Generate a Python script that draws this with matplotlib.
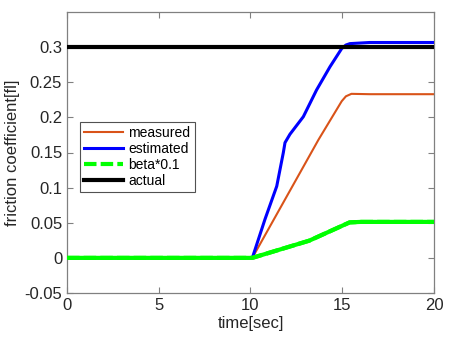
import matplotlib
matplotlib.use("Agg")
import matplotlib.pyplot as plt

plt.rcParams['font.family'] = ['Liberation Sans', 'DejaVu Sans']

# measured (orange)
t_meas = [0, 10.1, 13.7, 14.97, 15.2, 15.5, 16.5, 20]
v_meas = [0, 0, 0.168, 0.223, 0.230, 0.2335, 0.233, 0.233]

# estimated (blue)
t_est = [0, 10.1, 10.79, 11.43, 11.79, 11.88, 12.15, 12.88, 13.6, 14.33, 14.97, 15.2, 15.42, 16.5, 20]
v_est = [0, 0, 0.055, 0.102, 0.150, 0.164, 0.176, 0.201, 0.239, 0.272, 0.298, 0.303, 0.305, 0.3066, 0.3066]

# beta*0.1 (green)
t_beta = [0, 10.1, 13.2, 15.4, 16.0, 20]
v_beta = [0, 0, 0.0245, 0.0505, 0.0512, 0.0512]

# actual (black)
t_act = [0, 20]
v_act = [0.3, 0.3]

xticks = [0, 5, 10, 15, 20]
yticks = [-0.05, 0, 0.05, 0.1, 0.15, 0.2, 0.25, 0.3]
ytick_labels = ['-0.05', '0', '0.05', '0.1', '0.15', '0.2', '0.25', '0.3']

fig = plt.figure(figsize=(4.74, 3.47), dpi=100)
ax = fig.add_axes([67/474, 1 - 293/347, 367/474, 281/347])

ax.plot(t_meas, v_meas, color='#D95319', lw=1.5, label='measured', zorder=2)
ax.plot(t_est, v_est, color='#0000FF', lw=2.2, label='estimated', zorder=3)
ax.plot(t_beta, v_beta, color='#00FF00', lw=3.0, ls='--', dashes=(3, 1), label='beta*0.1', zorder=4)
ax.plot(t_beta, v_beta, color='#00FF00', lw=3.0, zorder=4)
ax.plot(t_act, v_act, color='black', lw=3.0, label='actual', zorder=5)

ax.set_xlim(0, 20)
ax.set_ylim(-0.05, 0.35)
ax.set_xticks(xticks)
ax.set_yticks(yticks)
ax.set_yticklabels(ytick_labels)
ax.tick_params(direction='in', top=True, right=True, labelsize=12, colors='#808080',
               labelcolor='#262626', length=4)
for s in ax.spines.values():
    s.set_color('#808080')
    s.set_linewidth(0.9)

ax.set_xlabel('time[sec]', fontsize=12, color='#262626', labelpad=2)
ax.set_ylabel('friction coefficient[fl]', fontsize=12, color='#262626', labelpad=3)

leg = ax.legend(loc='upper left', bbox_to_anchor=(0.035, 0.61), fontsize=10,
                frameon=True, fancybox=False, edgecolor='#262626', handlelength=2.8,
                borderpad=0.3, labelspacing=0.15, handletextpad=0.4, borderaxespad=0)
leg.get_frame().set_linewidth(0.8)
leg.set_zorder(10)

fig.savefig('out.png', dpi=100)
